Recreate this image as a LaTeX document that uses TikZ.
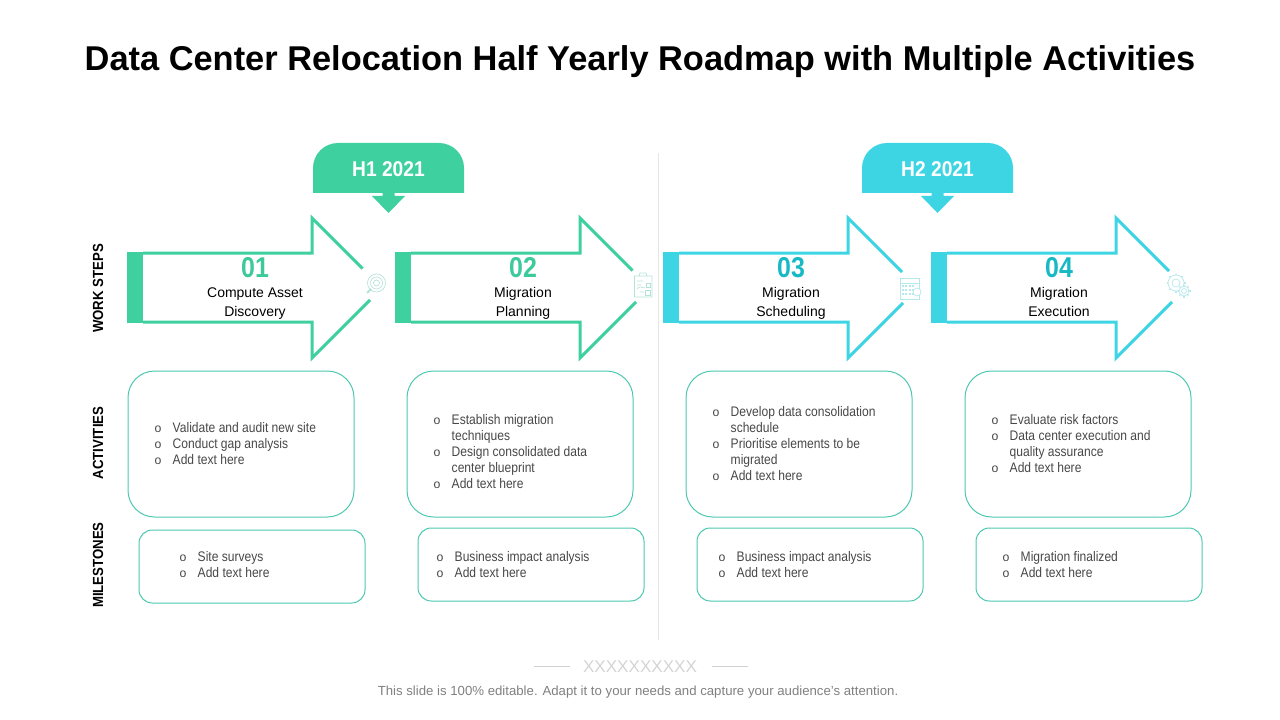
\documentclass[tikz,border=0pt]{standalone}
\usepackage{fontspec}
\setmainfont{Liberation Sans}
\newfontfamily\narrowfont[FakeStretch=0.87]{Liberation Sans}
\newfontfamily\semifont[FakeStretch=0.9]{Liberation Sans}
\definecolor{greenmain}{HTML}{3FD09F}
\definecolor{cyanmain}{HTML}{3DD5E3}
\definecolor{numgreen}{HTML}{3CC99B}
\definecolor{numcyan}{HTML}{17B9C4}
\definecolor{boxline}{HTML}{4CC8B0}
\definecolor{icongreen}{HTML}{B4E2D6}
\definecolor{iconcyan}{HTML}{B4E8EC}
\newcommand{\bl}{\makebox[13.5pt][l]{\normalfont\fontsize{9.2}{12}\selectfont o}}
\newcommand{\cl}{\hspace*{13.5pt}}
\tikzset{
    titletext/.style={font=\fontsize{25.8}{30}\selectfont\bfseries},
    sidelabel/.style={rotate=90,font=\semifont\fontsize{11}{13}\selectfont\bfseries},
    halftext/.style={text=white,font=\semifont\fontsize{16}{18}\selectfont\bfseries},
    numtext/.style={font=\narrowfont\fontsize{21.5}{24}\selectfont\bfseries},
    steptext/.style={align=center,font=\fontsize{10.5}{14.2}\selectfont},
    listtext/.style={anchor=west,align=left,text=black!72,font=\narrowfont\fontsize{10.4}{12}\selectfont},
    activitybox/.style={draw=boxline,line width=.75pt,rounded corners=20pt},
    milestonebox/.style={draw=boxline,line width=.75pt,rounded corners=10pt},
    iconline/.style={line width=.5pt}
}
\begin{document}
\begin{tikzpicture}[x=.75pt,y=-.75pt]
\useasboundingbox (0,0) rectangle (1280,720);
\node[titletext] (title) at (640,61.5) {Data Center Relocation Half Yearly Roadmap with Multiple Activities};
\draw[black!10,line width=.75pt] (658,153) -- (658,640);
% side labels
\node[sidelabel] (worksteps) at (98,288.5) {WORK STEPS};
\node[sidelabel] (activities) at (98,443) {ACTIVITIES};
\node[sidelabel] (milestones) at (98,565) {MILESTONES};
% half year callouts
\foreach \cx/\col/\lab/\nm in {388.5/greenmain/H1 2021/hone,937.5/cyanmain/H2 2021/htwo}{
    \fill[\col] (\cx-75.5,193) [rounded corners=18.75pt] -- (\cx-75.5,143) -- (\cx+75.5,143) [sharp corners] -- (\cx+75.5,193) -- cycle;
    \fill[\col] (\cx-6,193) -- (\cx+6,193) -- (\cx+6,196) -- (\cx+16.5,196) -- (\cx,213) -- (\cx-16.5,196) -- (\cx-6,196) -- cycle;
    \node[halftext] (\nm) at (\cx,169) {\lab};
}
% step arrows
\foreach \dx/\up/\lw/\col/\numcol/\num/\txt/\nm in {
    0/50.5/58/greenmain/numgreen/01/{Compute Asset\strut\\Discovery\strut}/stepone,
    268/52.5/56/greenmain/numgreen/02/{Migration\strut\\Planning\strut}/steptwo,
    536/54/55/cyanmain/numcyan/03/{Migration\strut\\Scheduling\strut}/stepthree,
    804/53/56/cyanmain/numcyan/04/{Migration\strut\\Execution\strut}/stepfour}{
    \fill[\col] (\dx+127,252) rectangle (\dx+143,323);
    \draw[\col,line width=2.25pt] (\dx+312+\up,218+\up) -- (\dx+312,218) -- (\dx+312,253) -- (\dx+143,253);
    \draw[\col,line width=2.25pt] (\dx+312+\lw,358-\lw) -- (\dx+312,358) -- (\dx+312,322) -- (\dx+143,322);
    \node[numtext,text=\numcol] (\nm num) at (\dx+255,268) {\num};
    \node[steptext] (\nm) at (\dx+255,303) {\txt};
}
% icons
\draw[icongreen,iconline] (376.5,283) circle (9) (376.5,283) circle (6) (376.5,283) circle (3);
\draw[icongreen,line width=1.5pt] (371,289) -- (367,293);
\draw[icongreen,iconline] (634.5,276) rectangle (652,297) (639,276) -- (640,273) -- (646,273) -- (647,276);
\draw[icongreen,iconline] (637,281) -- (643,281) (637,285) -- (641,285) (640,292) -- (644,292) (637,289) .. controls (639,286) and (642,287) .. (645,288);
\draw[icongreen,iconline] (646,283) rectangle (650,287) (645,290) rectangle (650,295);
\draw[iconcyan,iconline] (900,278) rectangle (919,299) (900,283) -- (919,283);
\foreach \py in {286,290,294}{
    \draw[iconcyan,line width=1pt,dash pattern=on 1.5pt off 1pt] (902,\py) -- (914,\py);
}
\draw[iconcyan,iconline,fill=white] (917,292) circle (4);
\foreach \cx/\cy/\rr in {1176/283/8,1184/291/5}{
    \draw[iconcyan,iconline,fill=white] (\cx,\cy) circle (\rr);
    \draw[iconcyan,iconline] (\cx,\cy) circle (\rr*.5);
    \foreach \ang in {0,45,...,315}{
        \draw[iconcyan,line width=1pt] (\cx,\cy) ++(\ang:\rr) -- ++(\ang:1.5);
    }
}
% activities
\foreach \bx/\nm in {128/actone,407/acttwo,686/actthree,965/actfour}{
    \draw[activitybox] (\bx,371) rectangle (\bx+226,517);
}
\node[listtext] (actone) at (150,444) {\bl Validate and audit new site\\\bl Conduct gap analysis\\\bl Add text here};
\node[listtext] (acttwo) at (429,452) {\bl Establish migration\\\cl techniques\\\bl Design consolidated data\\\cl center blueprint\\\bl Add text here};
\node[listtext] (actthree) at (708,444) {\bl Develop data consolidation\\\cl schedule\\\bl Prioritise elements to be\\\cl migrated\\\bl Add text here};
\node[listtext] (actfour) at (987,444) {\bl Evaluate risk factors\\\bl Data center execution and\\\cl quality assurance\\\bl Add text here};
% milestones
\foreach \bx/\by in {139/530,418/528,697/528,976/528}{
    \draw[milestonebox] (\bx,\by) rectangle (\bx+226,\by+73);
}
\node[listtext] (mileone) at (175,565) {\bl Site surveys\\\bl Add text here};
\node[listtext] (miletwo) at (432,565) {\bl Business impact analysis\\\bl Add text here};
\node[listtext] (milethree) at (714,565) {\bl Business impact analysis\\\bl Add text here};
\node[listtext] (milefour) at (998,565) {\bl Migration finalized\\\bl Add text here};
% footer
\draw[black!18,line width=.6pt] (534,666) -- (570,666) (712,666) -- (748,666);
\node[text=black!17,font=\fontsize{12.8}{14}\selectfont] (placeholder) at (640,666.5) {XXXXXXXXXX};
\node[text=black!50,font=\fontsize{9.9}{11}\selectfont] (footnote) at (638,692) {This slide is 100\% editable. Adapt it to your needs and capture your audience's attention.};
\end{tikzpicture}
\end{document}
